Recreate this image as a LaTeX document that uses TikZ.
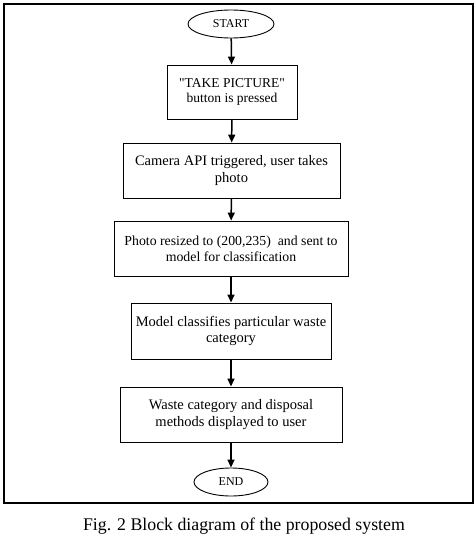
\documentclass[tikz,border=0pt]{standalone}
\usepackage{fontspec}
\setmainfont{Liberation Serif}
\usetikzlibrary{arrows.meta,shapes.geometric}

\begin{document}
\begin{tikzpicture}[x=1pt,y=-1pt,
    every node/.style={inner sep=0pt},
    stepbox/.style={draw,line width=0.9pt,align=center,font=\fontsize{14.5}{16.5}\selectfont},
    term/.style={draw,ellipse,line width=0.9pt,font=\fontsize{12}{14}\selectfont},
    flow/.style={-{Triangle[length=8pt,width=7pt]},line width=1.5pt}]
                \useasboundingbox (0,0) rectangle (474,555);
                %Frame
                \draw[line width=2.2pt] (4,4) rectangle (473,503);
                %Nodes
                \node[term,minimum width=86pt,minimum height=28pt] (start) at (231,24) {START};
                \node[stepbox,minimum width=130pt,minimum height=54pt,font=\fontsize{13.5}{15.5}\selectfont\addfontfeature{Ligatures=TeXOff}] (take) at (232,92) {"TAKE PICTURE"\\button is pressed};
                \node[stepbox,minimum width=217pt,minimum height=55pt] (camera) at (231.5,170.5) {Camera API triggered, user takes\\photo};
                \node[stepbox,minimum width=234pt,minimum height=55pt,font=\fontsize{13.8}{16}\selectfont] (resize) at (231,248.5) {Photo resized to (200,235) \ and sent to\\model for classification};
                \node[stepbox,minimum width=200pt,minimum height=56pt] (model) at (231,331) {Model classifies particular waste\\category};
                \node[stepbox,minimum width=222pt,minimum height=55pt] (display) at (231,414.5) {Waste category and disposal\\methods displayed to user};
                \node[term,minimum width=74pt,minimum height=28pt] (end) at (231,482) {END};
                %Arrows
                \draw[flow] (start) -- (take);
                \draw[flow] (take) -- (camera);
                \draw[flow] (camera) -- (resize);
                \draw[flow] (resize) -- (model);
                \draw[flow] (model) -- (display);
                \draw[flow] (display) -- (end);
                %Caption
                \node[font=\fontsize{17.8}{21}\selectfont] (caption) at (244,526) {Fig. 2 Block diagram of the proposed system};
\end{tikzpicture}
\end{document}
